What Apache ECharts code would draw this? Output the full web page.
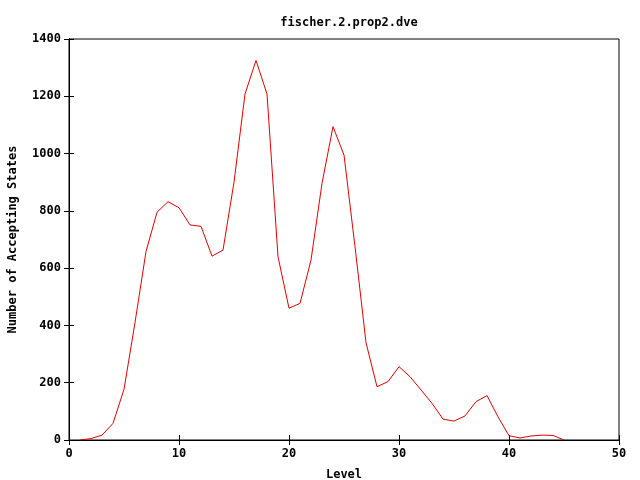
<!DOCTYPE html>
<html>
<head>
<meta charset="utf-8">
<script src="https://cdn.jsdelivr.net/npm/echarts@6/dist/echarts.min.js"></script>
<style>
html,body{margin:0;padding:0;background:#fff;}
#c{width:640px;height:480px;}
</style>
</head>
<body>
<div id="c"></div>
<script>
var levels = [1,2,3,4,5,6,7,8,9,10,11,12,13,14,15,16,17,18,19,20,21,22,23,24,25,26,27,28,29,30,31,32,33,34,35,36,37,38,39,40,41,42,43,44,45];
var states = [0,5,17,58,177,410,658,795,832,811,751,746,642,663,900,1208,1325,1208,640,460,477,628,896,1094,995,675,340,186,204,256,221,175,128,73,66,84,134,155,81,15,7,14,17,16,0];
var xTicks = [0,10,20,30,40,50];
var yTicks = [0,200,400,600,800,1000,1200,1400];

var FONT = '"DejaVu Sans Mono", monospace';
var chart = echarts.init(document.getElementById('c'), null, {renderer:'canvas'});
var pts = levels.map(function(l,i){return [l, states[i]];});
function lbl(){return {color:'#000', fontFamily:FONT, fontWeight:'bold', fontSize:12};}
function plain(v){return String(v);}
chart.setOption({
  animation:false,
  backgroundColor:'#fff',
  title:{text:'fischer.2.prop2.dve', left:344, top:12, textAlign:'center',
    textStyle:{color:'#000', fontFamily:FONT, fontWeight:'bold', fontSize:12}},
  grid:{left:69, right:21, top:39, bottom:40, containLabel:false, outerBoundsMode:'none',
    show:true, borderColor:'#000', borderWidth:1},
  xAxis:[{type:'value', min:xTicks[0], max:xTicks[xTicks.length-1], interval:10,
      name:'Level', nameLocation:'middle', nameGap:29,
      nameTextStyle:lbl(),
      axisLine:{show:true, lineStyle:{color:'#000', width:1}},
      axisTick:{show:true, inside:true, length:5, lineStyle:{color:'#000'}},
      axisLabel:Object.assign({margin:8, formatter:plain}, lbl()),
      splitLine:{show:false}},
    {type:'value', position:'top', min:xTicks[0], max:xTicks[xTicks.length-1], interval:10,
      axisLine:{show:true, lineStyle:{color:'#000'}},
      axisTick:{show:true, inside:true, length:5, lineStyle:{color:'#000'}},
      axisLabel:{show:false}, splitLine:{show:false}}],
  yAxis:[{type:'value', min:yTicks[0], max:yTicks[yTicks.length-1], interval:200,
      name:'Number of Accepting States', nameLocation:'middle', nameGap:50, nameRotate:90,
      nameTextStyle:lbl(),
      axisLine:{show:true, lineStyle:{color:'#000', width:1}},
      axisTick:{show:true, inside:true, length:5, lineStyle:{color:'#000'}},
      axisLabel:Object.assign({margin:8, formatter:plain}, lbl()),
      splitLine:{show:false}},
    {type:'value', position:'right', min:yTicks[0], max:yTicks[yTicks.length-1], interval:200,
      axisLine:{show:true, lineStyle:{color:'#000'}},
      axisTick:{show:true, inside:true, length:5, lineStyle:{color:'#000'}},
      axisLabel:{show:false}, splitLine:{show:false}}],
  series:[{type:'line', data:pts, xAxisIndex:0, yAxisIndex:0, symbol:'none', showSymbol:false,
    lineStyle:{color:'#e00000', width:1}, z:1}]
});
</script>
</body>
</html>
